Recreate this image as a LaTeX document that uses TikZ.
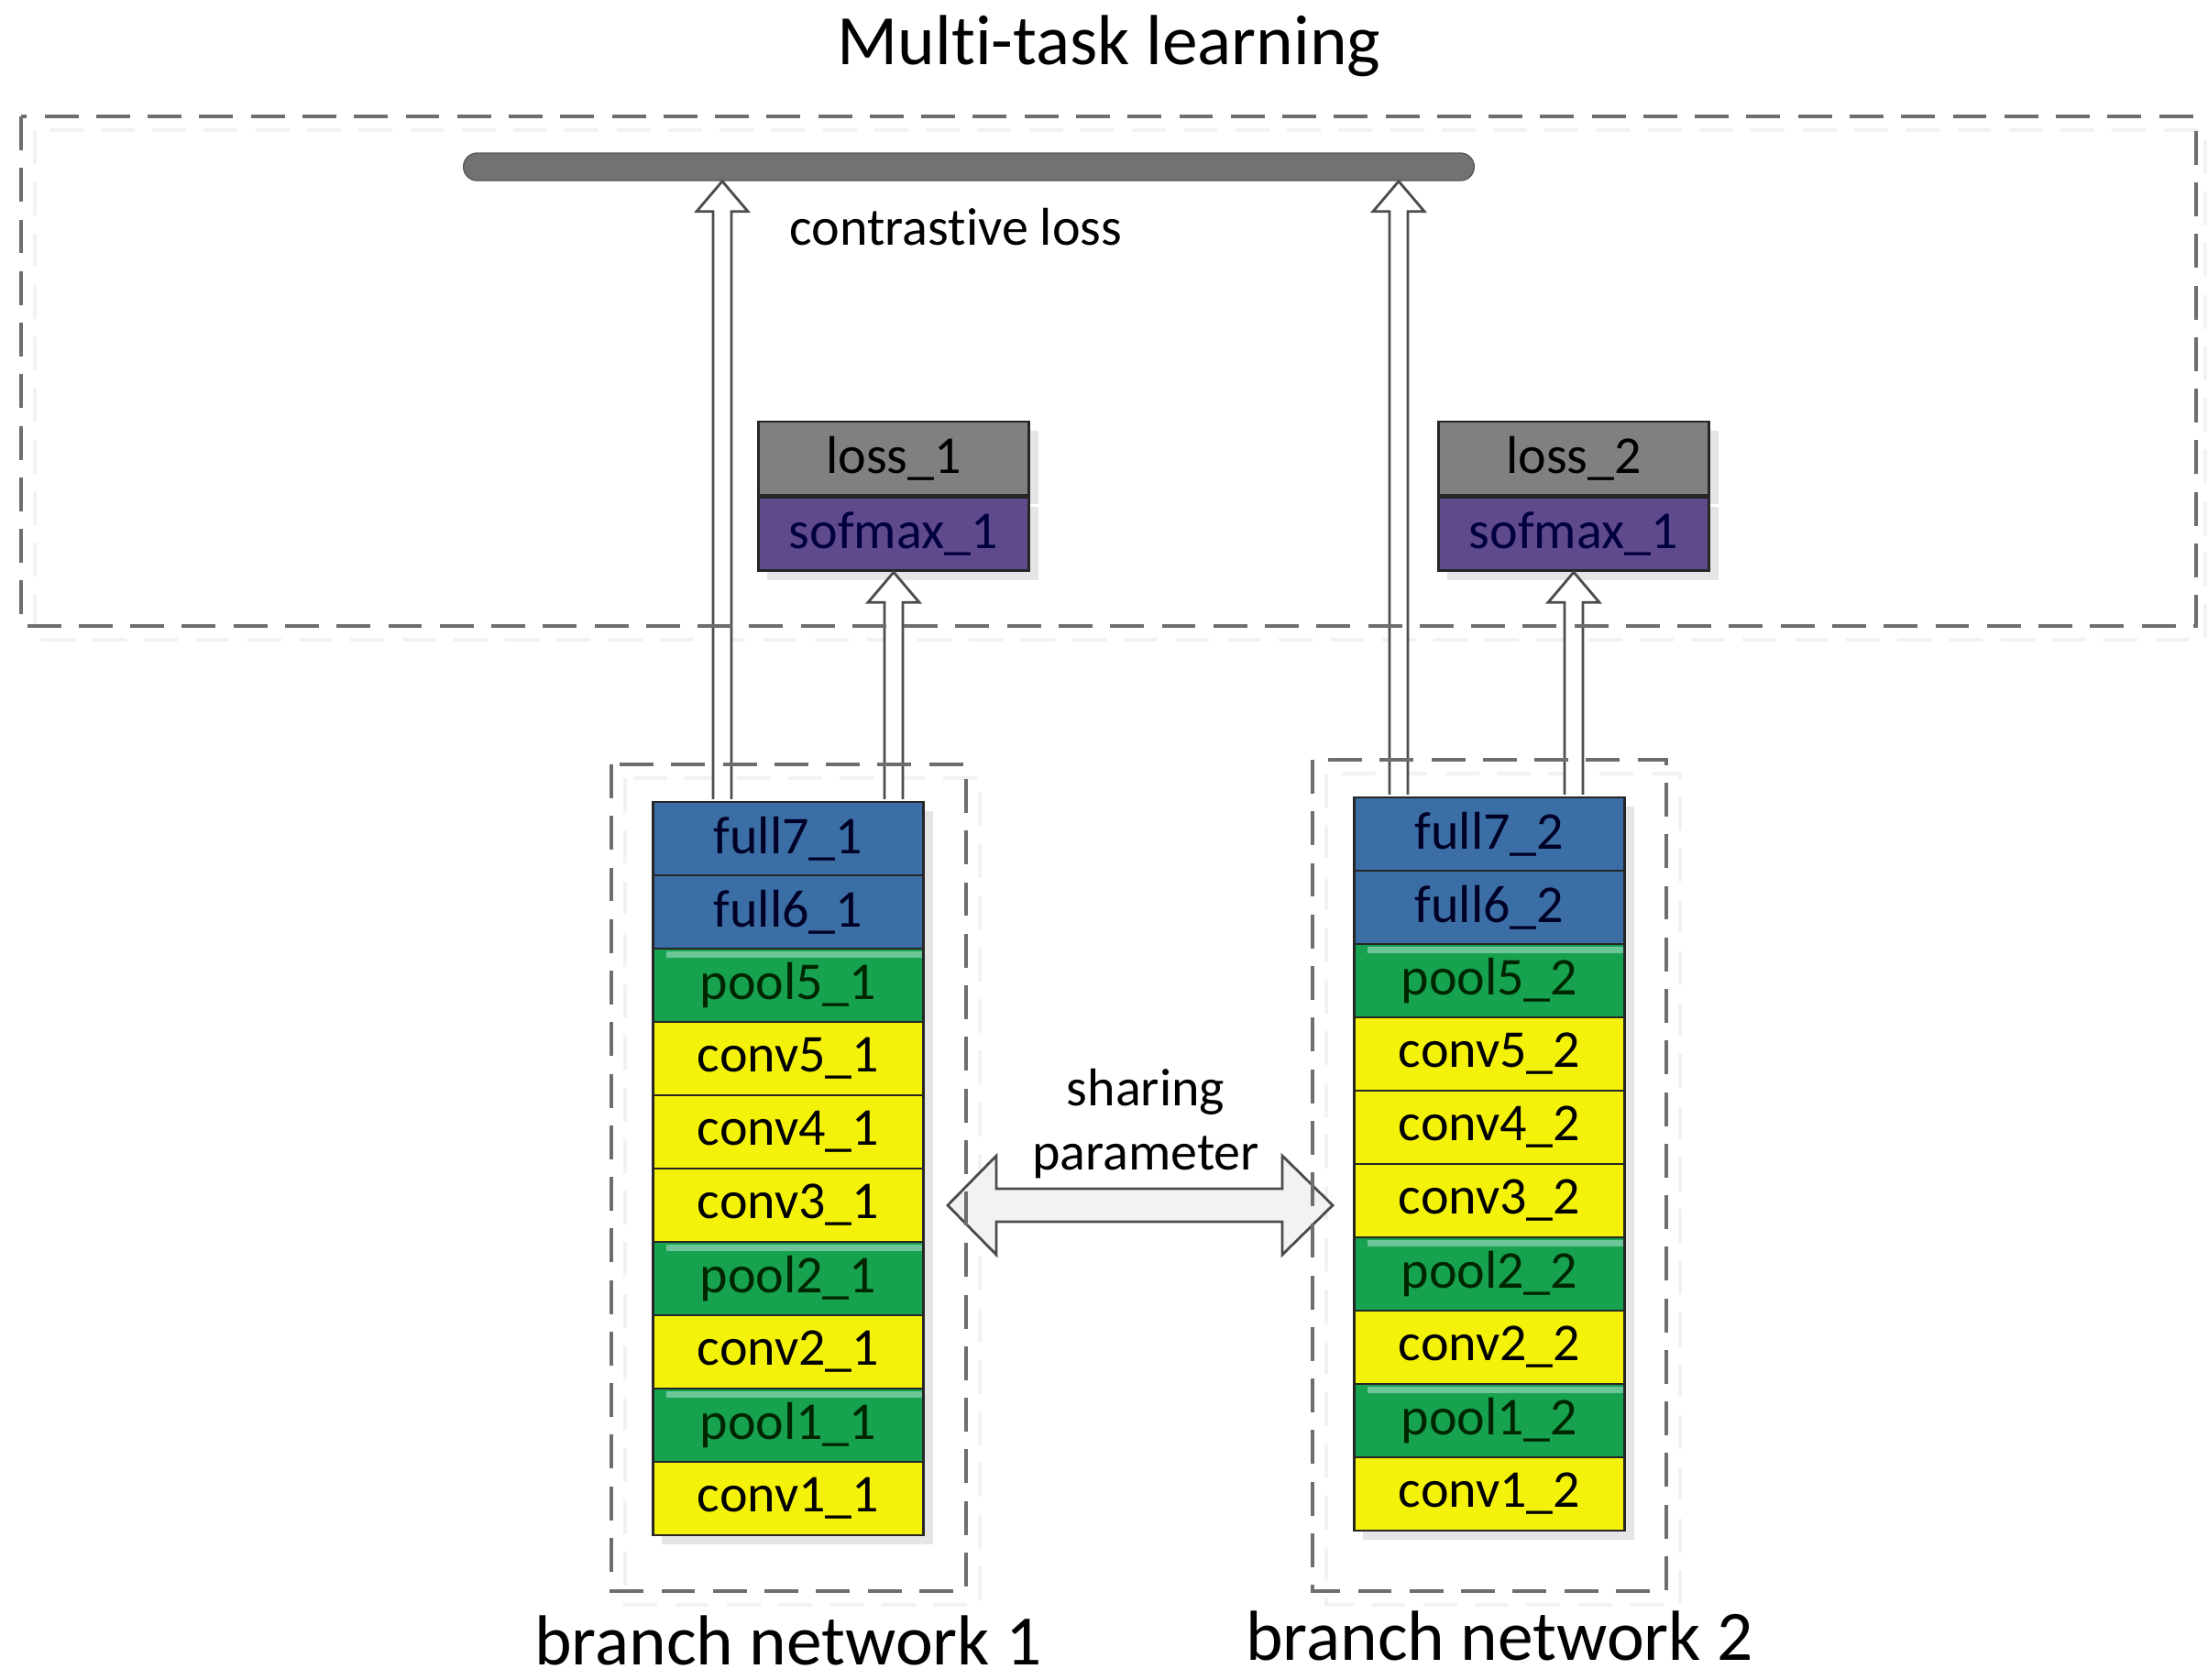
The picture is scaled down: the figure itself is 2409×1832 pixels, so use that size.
\documentclass[tikz,border=0pt]{standalone}
\usepackage{fontspec}
\setmainfont[Ligatures=NoCommon]{Carlito}
\usetikzlibrary{positioning, calc, shadows}

\definecolor{fullblue}{HTML}{3B6EA5}
\definecolor{poolgreen}{HTML}{16A24F}
\definecolor{poolhi}{HTML}{6CC597}
\definecolor{convyellow}{HTML}{F4F20A}
\definecolor{lossgray}{HTML}{808080}
\definecolor{softpurple}{HTML}{5F4A8B}
\definecolor{bargray}{HTML}{727272}
\definecolor{dashgray}{HTML}{6E6E6E}

\tikzset{
    layerbox/.style={draw=black!85, line width=0.8pt, minimum width=2.95cm,
        minimum height=0.8cm, inner sep=0pt, font=\fontsize{16.5}{18}\selectfont,
        drop shadow={shadow xshift=0.1cm, shadow yshift=-0.1cm, fill=black!10, opacity=1}},
    fullbox/.style={layerbox, fill=fullblue, text=black!85!blue},
    poolbox/.style={layerbox, fill=poolgreen, text=black!85!green,
        path picture={\fill[poolhi] ([xshift=0.15cm,yshift=-0.03cm]path picture bounding box.north west)
            rectangle ([yshift=-0.1cm]path picture bounding box.north east);}},
    convbox/.style={layerbox, fill=convyellow},
    lossbox/.style={layerbox, fill=lossgray},
    softbox/.style={layerbox, fill=softpurple, text=black!75!blue},
    dashbox/.style={draw=dashgray, line width=0.9pt, dash pattern=on 10.5pt off 5.5pt},
    dashshade/.style={draw=black!5, line width=0.9pt, dash pattern=on 10.5pt off 5.5pt},
    hollow/.style={draw=black!70, line width=0.8pt, fill=white},
    bigtext/.style={font=\fontsize{22}{26}\selectfont},
    midtext/.style={font=\fontsize{16.5}{19.9}\selectfont, align=center},
}

% open arrow pointing up, from #1 to #2
\newcommand{\hollowup}[2]{%
    \draw[hollow] let \p1=(#1), \p2=(#2) in
        ({\x1-0.1cm},{\y1+0.5pt}) -- ({\x1-0.1cm},{\y2-0.33cm}) -- ({\x1-0.28cm},{\y2-0.33cm})
        -- (\x1,\y2) -- ({\x1+0.28cm},{\y2-0.33cm}) -- ({\x1+0.1cm},{\y2-0.33cm})
        -- ({\x1+0.1cm},{\y1+0.5pt});
}
% open arrow with two heads, from #1 to #2
\newcommand{\hollowboth}[2]{%
    \draw[hollow, fill=black!5] let \p1=(#1), \p2=(#2) in
        (\x1,\y1) -- ({\x1+0.53cm},{\y1+0.54cm}) -- ({\x1+0.53cm},{\y1+0.18cm})
        -- ({\x2-0.55cm},{\y1+0.18cm}) -- ({\x2-0.55cm},{\y1+0.54cm}) -- (\x2,\y1)
        -- ({\x2-0.55cm},{\y1-0.54cm}) -- ({\x2-0.55cm},{\y1-0.18cm})
        -- ({\x1+0.53cm},{\y1-0.18cm}) -- ({\x1+0.53cm},{\y1-0.54cm}) -- cycle;
}

\begin{document}
\begin{tikzpicture}[x=0.01cm, y=-0.01cm]
    \useasboundingbox (0,0) rectangle (2409,1832);

    % shadows of the dashed frames
    \draw[dashshade] (38,142) rectangle (2406,698);
    \draw[dashshade] (682,849) rectangle (1069,1751);
    \draw[dashshade] (1447,844) rectangle (1833,1751);

    \node[draw=black!65, fill=bargray, rounded corners=0.15cm, minimum width=11.02cm,
        minimum height=0.3cm, inner sep=0pt] (bar) at (1057,182) {};

    % branch 1
    \foreach \lab/\sty [count=\i from 0] in {full7/fullbox, full6/fullbox, pool5/poolbox,
            conv5/convbox, conv4/convbox, conv3/convbox, pool2/poolbox, conv2/convbox,
            pool1/poolbox, conv1/convbox}
        \node[\sty] (\lab a) at (860,{915+80*\i}) {\lab\_1};
    % branch 2
    \foreach \lab/\sty [count=\i from 0] in {full7/fullbox, full6/fullbox, pool5/poolbox,
            conv5/convbox, conv4/convbox, conv3/convbox, pool2/poolbox, conv2/convbox,
            pool1/poolbox, conv1/convbox}
        \node[\sty] (\lab b) at (1625,{910+80*\i}) {\lab\_2};

    \node[lossbox] (loss1) at (975,500) {loss\_1};
    \node[softbox, below=0pt of loss1] (soft1) {sofmax\_1};
    \node[lossbox] (loss2) at (1717,500) {loss\_2};
    \node[softbox, below=0pt of loss2] (soft2) {sofmax\_1};

    \coordinate (up1) at ($(full7a.north)+(-72,0)$);
    \coordinate (up2) at ($(full7b.north)+(-99,0)$);
    \hollowup{up1}{up1 |- bar.south}
    \hollowup{up2}{up2 |- bar.south}
    \hollowup{soft1.south |- full7a.north}{soft1.south}
    \hollowup{soft2.south |- full7b.north}{soft2.south}

    \coordinate (sl) at ($(conv3a.east)+(25,0)$);
    \coordinate (sr) at ($(sl -| conv3b.west)+(-22,0)$);
    \hollowboth{sl}{sr}

    \draw[dashbox] (23,127) rectangle (2396,683);
    \draw[dashbox] (667,834) rectangle (1054,1736);
    \draw[dashbox] (1432,829) rectangle (1818,1736);

    \node[bigtext] (title) at (1210,50) {Multi-task learning};
    \node[midtext] (closs) at (1043,248) {contrastive loss};
    \node[midtext] (share) at (1250,1226) {sharing\\parameter};
    \node[bigtext] (net1) at (860,1790) {branch network 1};
    \node[bigtext] (net2) at (1636,1785) {branch network 2};
\end{tikzpicture}
\end{document}
